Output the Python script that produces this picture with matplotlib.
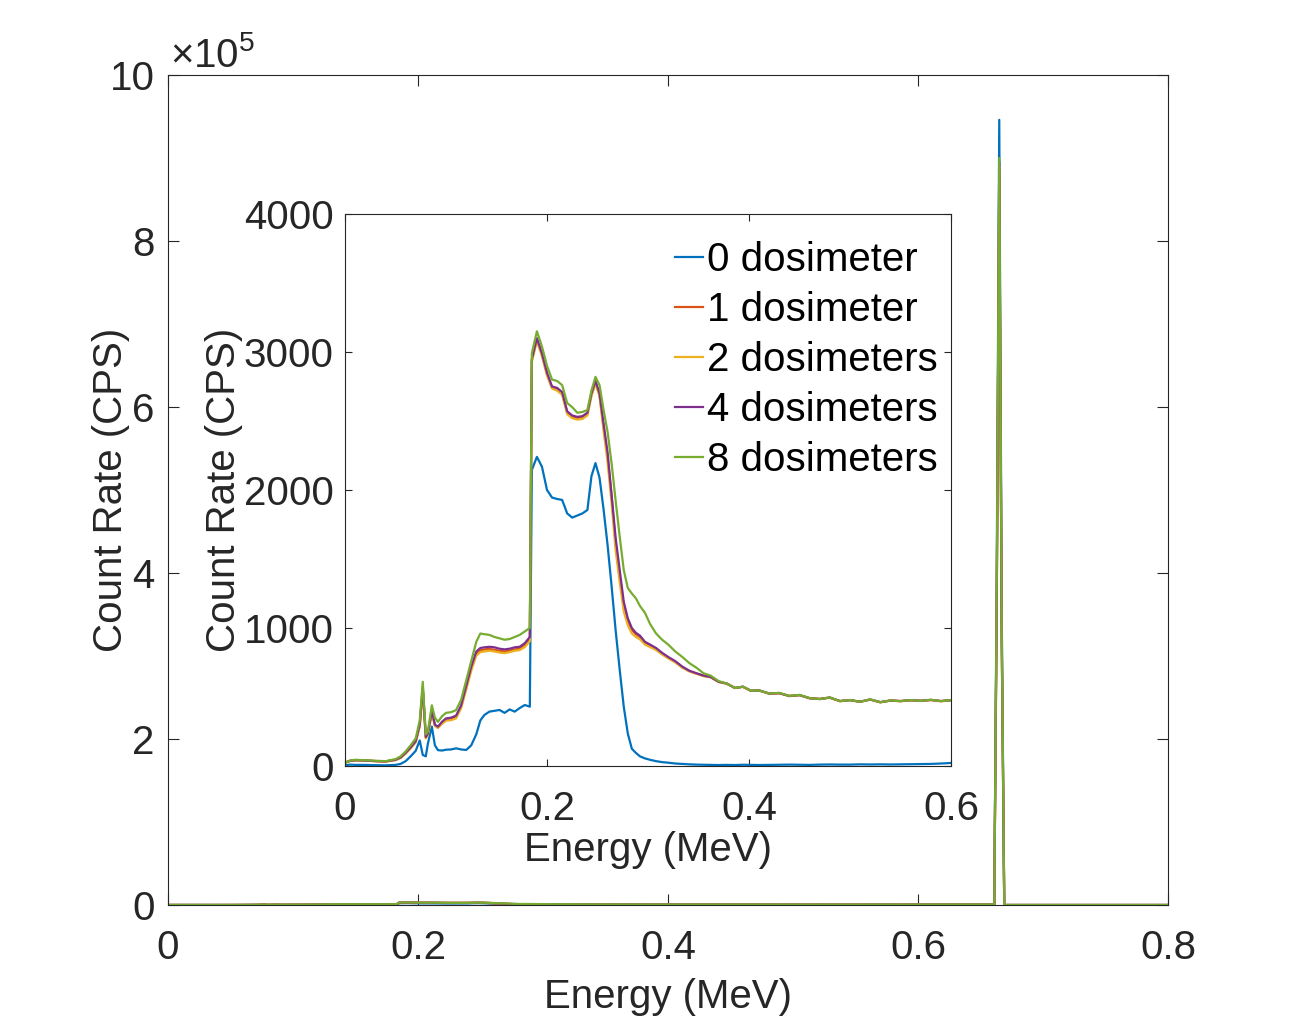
import matplotlib
matplotlib.use("Agg")
import matplotlib.pyplot as plt

plt.rcParams['font.family'] = ['Liberation Sans', 'DejaVu Sans']

# energy grid (MeV) shared by all spectra
energy = [0.000, 0.005, 0.010, 0.020, 0.030, 0.040, 0.050, 0.055, 0.060, 0.065,
          0.070, 0.074, 0.077, 0.080, 0.082, 0.086, 0.089, 0.092, 0.096, 0.100,
          0.105, 0.110, 0.115, 0.120, 0.125, 0.130, 0.134, 0.138, 0.143, 0.148,
          0.153, 0.158, 0.163, 0.168, 0.173, 0.178, 0.183, 0.185, 0.190, 0.195,
          0.200, 0.205, 0.210, 0.215, 0.220, 0.225, 0.230, 0.235, 0.240, 0.244,
          0.248, 0.252, 0.256, 0.260, 0.264, 0.268, 0.272, 0.276, 0.280, 0.284,
          0.288, 0.292, 0.297, 0.302, 0.308, 0.314, 0.320, 0.327, 0.334, 0.341,
          0.348, 0.355, 0.362, 0.370, 0.378, 0.386, 0.394, 0.402, 0.410, 0.420,
          0.430, 0.440, 0.450, 0.460, 0.470, 0.480, 0.490, 0.500, 0.510, 0.520,
          0.530, 0.540, 0.550, 0.560, 0.570, 0.580, 0.590, 0.600, 0.650, 0.661,
          0.663, 0.665, 0.667, 0.669, 0.700, 0.800]

cps_0 = [5, 10, 8, 8, 6, 5, 8, 15, 35, 70,
         110, 185, 80, 70, 160, 285, 150, 115, 112, 118,
         120, 128, 120, 116, 150, 230, 330, 370, 394, 400,
         406, 385, 410, 394, 420, 442, 430, 2145, 2240, 2169,
         2000, 1945, 1935, 1928, 1830, 1800, 1815, 1830, 1855, 2100,
         2195, 2090, 1860, 1600, 1300, 980, 696, 430, 235, 125,
         95, 70, 55, 45, 35, 28, 24, 18, 15, 12,
         10, 9, 8, 7, 8, 7, 9, 8, 7, 8,
         9, 10, 9, 8, 10, 11, 10, 10, 12, 11,
         12, 11, 12, 13, 14, 15, 18, 22, 25, 30,
         400000, 946000, 350000, 0, 0, 0]

cps_1 = [25, 37, 41, 40, 35, 33, 44, 60, 92, 130,
         175, 295, 560, 205, 230, 390, 295, 280, 312, 335,
         340, 355, 430, 565, 705, 812, 838, 845, 848, 842,
         835, 830, 836, 845, 850, 875, 920, 2940, 3090, 2980,
         2840, 2740, 2730, 2700, 2560, 2530, 2520, 2525, 2550, 2690,
         2780, 2690, 2460, 2240, 1950, 1610, 1380, 1160, 1050, 985,
         955, 935, 892, 872, 848, 815, 785, 755, 716, 688,
         670, 653, 644, 610, 597, 566, 574, 545, 547, 525,
         527, 508, 513, 492, 485, 495, 470, 478, 465, 481,
         462, 475, 470, 476, 472, 478, 470, 476, 483, 487,
         360000, 880000, 315000, 0, 0, 0]

cps_2 = [24, 36, 40, 39, 35, 32, 43, 58, 90, 128,
         172, 290, 550, 200, 225, 385, 290, 275, 305, 328,
         332, 345, 420, 555, 690, 800, 825, 830, 835, 830,
         822, 818, 825, 835, 840, 862, 905, 2930, 3080, 2970,
         2830, 2735, 2720, 2690, 2550, 2520, 2510, 2515, 2540, 2680,
         2770, 2680, 2430, 2200, 1900, 1560, 1330, 1120, 1020, 960,
         935, 918, 880, 862, 840, 808, 780, 750, 712, 685,
         668, 652, 643, 609, 596, 566, 573, 544, 547, 524,
         529, 506, 515, 490, 486, 496, 469, 477, 466, 482,
         461, 474, 469, 477, 471, 479, 469, 477, 484, 489,
         365000, 890000, 318000, 0, 0, 0]

cps_4 = [25, 38, 42, 40, 36, 33, 45, 62, 95, 135,
         180, 300, 575, 210, 235, 400, 300, 285, 320, 345,
         350, 365, 440, 580, 720, 830, 855, 860, 864, 860,
         850, 845, 850, 860, 864, 890, 935, 2950, 3100, 2990,
         2850, 2750, 2740, 2710, 2570, 2540, 2530, 2535, 2560, 2700,
         2790, 2700, 2480, 2270, 1960, 1650, 1420, 1190, 1070, 1000,
         965, 945, 900, 880, 855, 820, 790, 760, 720, 690,
         672, 655, 645, 610, 598, 565, 575, 545, 548, 525,
         528, 507, 514, 491, 486, 496, 471, 477, 466, 482,
         463, 474, 471, 477, 473, 479, 471, 477, 484, 488,
         370000, 895000, 320000, 0, 0, 0]

cps_8 = [20, 40, 45, 42, 38, 35, 50, 70, 105, 150,
         200, 330, 610, 230, 250, 440, 350, 320, 360, 385,
         390, 405, 480, 620, 760, 900, 960, 955, 950, 935,
         925, 915, 920, 935, 950, 975, 1000, 2990, 3150, 3040,
         2900, 2800, 2790, 2760, 2630, 2600, 2560, 2565, 2580, 2720,
         2820, 2760, 2580, 2420, 2190, 1920, 1662, 1420, 1290, 1250,
         1215, 1160, 1110, 1030, 960, 915, 880, 830, 790, 745,
         712, 672, 655, 615, 598, 565, 575, 545, 548, 525,
         530, 508, 515, 492, 485, 497, 470, 478, 465, 483,
         462, 475, 470, 478, 472, 480, 470, 478, 485, 490,
         380000, 900000, 330000, 0, 0, 0]

series = [cps_0, cps_1, cps_2, cps_4, cps_8]
labels = ['0 dosimeter', '1 dosimeter', '2 dosimeters', '4 dosimeters', '8 dosimeters']
colors = ['#0072BD', '#D95319', '#EDB120', '#7E2F8E', '#77AC30']

main_xticks = [0, 0.2, 0.4, 0.6, 0.8]
main_yticks = [0, 2e5, 4e5, 6e5, 8e5, 10e5]
main_yticklabels = ['0', '2', '4', '6', '8', '10']
inset_xticks = [0, 0.2, 0.4, 0.6]
inset_yticks = [0, 1000, 2000, 3000, 4000]

txt = '#262626'
W, H = 1293, 1017
fig = plt.figure(figsize=(W / 100, H / 100), dpi=100)


def style(ax, ticklen, xpad, ypad):
    for s in ax.spines.values():
        s.set_color(txt)
        s.set_linewidth(0.8)
    ax.tick_params(direction='in', length=ticklen, width=0.8, color=txt,
                   labelsize=29, labelcolor=txt, top=True, right=True)
    ax.tick_params(axis='x', pad=xpad)
    ax.tick_params(axis='y', pad=ypad)


# main axes
ax = fig.add_axes([168 / W, 1 - 905 / H, 1000 / W, 830 / H])
for y, lab, c in zip(series, labels, colors):
    ax.plot(energy, y, color=c, lw=1.6, label=lab)
ax.set_xlim(0, 0.8)
ax.set_ylim(0, 1e6)
ax.set_xticks(main_xticks)
ax.set_xticklabels(['0', '0.2', '0.4', '0.6', '0.8'])
ax.set_yticks(main_yticks)
ax.set_yticklabels(main_yticklabels)
style(ax, 8, 17, 9.5)
ax.set_xlabel('Energy (MeV)', fontsize=29, color=txt, labelpad=8)
ax.set_ylabel('Count Rate (CPS)', fontsize=29, color=txt)
ax.yaxis.set_label_coords(-0.038, 0.5)
fig.text(170 / W, 1 - 67 / H, r'$\mathregular{\times10^{5}}$', fontsize=29,
         color=txt, va='baseline', ha='left')

# inset axes
ins = fig.add_axes([345 / W, 1 - 766 / H, 606 / W, 552 / H])
for y, lab, c in zip(series, labels, colors):
    ins.plot(energy, y, color=c, lw=1.6, label=lab)
ins.set_xlim(0, 0.6)
ins.set_ylim(0, 4000)
ins.set_xticks(inset_xticks)
ins.set_xticklabels(['0', '0.2', '0.4', '0.6'])
ins.set_yticks(inset_yticks)
style(ins, 5, 17, 8)
ins.set_xlabel('Energy (MeV)', fontsize=29, color=txt, labelpad=2.5)
ins.set_ylabel('Count Rate (CPS)', fontsize=29, color=txt)
ins.yaxis.set_label_coords(-0.168, 0.5)

leg = ins.legend(loc='upper left', bbox_to_anchor=(675 / W, 1 - 241 / H),
                 bbox_transform=fig.transFigure, frameon=False, fontsize=29,
                 handlelength=0.7, handletextpad=0.1, labelspacing=0.3,
                 borderpad=0, borderaxespad=0)

fig.savefig('out.png', dpi=100)
